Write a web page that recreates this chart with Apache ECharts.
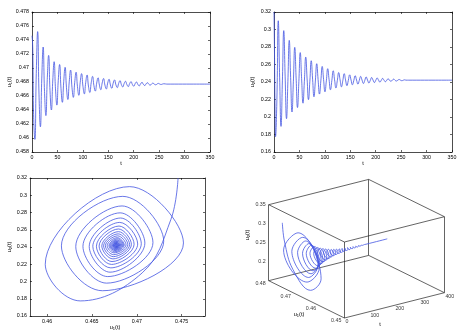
<!DOCTYPE html>
<html><head><meta charset="utf-8">
<script src="https://cdn.jsdelivr.net/npm/echarts@6/dist/echarts.min.js"></script>
<style>html,body{margin:0;padding:0;background:#fff}#c{width:474px;height:336px}</style>
</head><body><div id="c"></div>
<script>
const tValues = [
0, 1.0, 2.0,
3.0, 5.7, 8.4, 11.1,
13.8, 16.5, 19.2, 21.9,
24.6, 27.3, 30.0, 32.7,
35.4, 38.1, 40.8, 43.5,
46.2, 48.9, 51.6, 54.3,
57.0, 59.7, 62.4, 65.1,
67.8, 70.5, 73.2, 75.9,
78.6, 81.3, 84.0, 86.7,
89.4, 92.1, 94.8, 97.5,
100.2, 102.9, 105.6, 108.3,
111.0, 113.7, 116.4, 119.1,
121.8, 124.5, 127.2, 129.9,
132.6, 135.3, 138.0, 140.7,
143.4, 146.1, 148.8, 151.5,
154.2, 156.9, 159.6, 162.3,
165.0, 167.7, 170.4, 173.1,
175.8, 178.5, 181.2, 183.9,
186.6, 189.3, 192.0, 194.7,
197.4, 200.1, 202.8, 205.5,
208.2, 210.9, 213.6, 216.3,
219.0, 221.7, 224.4, 227.1,
229.8, 232.5, 235.2, 237.9,
240.6, 243.3, 246.0, 248.7,
251.4, 254.1, 256.8, 259.5,
265, 350];
const u1Values = [
0.4746, 0.4738, 0.4706,
0.4637, 0.4598, 0.4692, 0.4752,
0.46616, 0.4616, 0.46844, 0.4730,
0.46664, 0.4632, 0.46836, 0.4718,
0.46676, 0.4640, 0.46814, 0.4709,
0.46702, 0.4647, 0.46818, 0.4705,
0.4671, 0.4651, 0.4681, 0.4701,
0.46718, 0.4655, 0.46802, 0.4697,
0.46724, 0.4658, 0.46796, 0.4694,
0.46734, 0.4661, 0.46796, 0.4692,
0.46738, 0.4663, 0.46792, 0.4690,
0.46742, 0.4665, 0.46788, 0.4688,
0.46746, 0.4667, 0.46784, 0.4686,
0.46754, 0.4669, 0.46786, 0.4685,
0.46756, 0.4670, 0.46784, 0.4684,
0.46758, 0.4671, 0.46782, 0.4683,
0.4676, 0.4672, 0.4678, 0.4682,
0.46762, 0.4673, 0.46778, 0.4681,
0.46763, 0.46735, 0.46777, 0.46805,
0.46764, 0.4674, 0.46776, 0.4680,
0.46765, 0.46745, 0.46775, 0.46795,
0.46766, 0.4675, 0.46774, 0.4679,
0.46767, 0.46755, 0.46773, 0.46785,
0.46768, 0.4676, 0.46772, 0.4678,
0.46769, 0.46765, 0.46771, 0.46775,
0.4677, 0.4677];
const u2Values = [
0.3200, 0.2720, 0.2100,
0.1775, 0.2200, 0.3100, 0.2447,
0.1893, 0.2413, 0.2987, 0.2467,
0.1981, 0.2406, 0.2876, 0.2451,
0.2057, 0.2408, 0.2796, 0.2445,
0.2108, 0.2406, 0.2736, 0.2438,
0.2158, 0.2408, 0.2685, 0.2435,
0.2198, 0.2409, 0.2643, 0.2432,
0.2231, 0.2411, 0.2609, 0.2429,
0.2262, 0.2412, 0.2578, 0.2428,
0.2288, 0.2413, 0.2552, 0.2427,
0.2311, 0.2415, 0.2529, 0.2425,
0.2332, 0.2416, 0.2508, 0.2424,
0.2345, 0.2416, 0.2495, 0.2424,
0.2358, 0.2417, 0.2482, 0.2423,
0.2368, 0.2417, 0.2472, 0.2423,
0.2376, 0.2418, 0.2464, 0.2422,
0.2383, 0.2418, 0.2457, 0.2422,
0.2389, 0.2418, 0.2451, 0.2422,
0.2394, 0.2419, 0.2446, 0.2422,
0.2399, 0.2419, 0.2441, 0.2421,
0.2403, 0.2419, 0.2437, 0.2421,
0.2407, 0.2420, 0.2433, 0.2421,
0.2411, 0.2420, 0.2429, 0.2421,
0.2415, 0.2420, 0.2425, 0.2421,
0.2421, 0.2421];

// ---- tick labels ----
const tTicks = [0, 50, 100, 150, 200, 250, 300, 350];
const u1Ticks = [0.458, 0.46, 0.462, 0.464, 0.466, 0.468, 0.47, 0.472, 0.474, 0.476, 0.478];
const u2Ticks = [0.16, 0.18, 0.2, 0.22, 0.24, 0.26, 0.28, 0.3, 0.32];
const phaseU1Ticks = [0.46, 0.465, 0.47, 0.475];
const box3dT = [0, 100, 200, 300, 400];
const box3dU1 = [0.48, 0.47, 0.46, 0.45];
const box3dU2 = [0.2, 0.25, 0.3, 0.35];
const box3dRange = { t: [0, 400], u1: [0.48, 0.45], u2: [0.15, 0.35] };

// ---- styling ----
const FONT = 'Liberation Sans, Arial, Helvetica, sans-serif';
const FS = 5.3;
const LINE = '#4455e2';
const fmt = v => String(+(+v).toFixed(4));

function axis(gi, pos, min, max, ticks, showLabel) {
  return {
    type: 'value', gridIndex: gi, position: pos, min: min, max: max, scale: true,
    axisLine: { show: true, onZero: false, lineStyle: { color: '#000', width: 0.7 } },
    axisTick: { show: true, inside: true, length: 2, customValues: ticks, lineStyle: { color: '#000', width: 0.6 } },
    axisLabel: { show: showLabel, customValues: ticks, fontSize: FS, color: '#000', margin: 3, fontFamily: FONT, formatter: fmt },
    splitLine: { show: false }
  };
}

const grids = [
  { left: 32, top: 12, width: 178, height: 140 },
  { left: 274, top: 12, width: 178, height: 140 },
  { left: 30, top: 178, width: 175, height: 138 },
  { left: 237, top: 168, width: 237, height: 168 }
];

const xAxes = [
  axis(0, 'bottom', 0, 350, tTicks, true), axis(0, 'top', 0, 350, tTicks, false),
  axis(1, 'bottom', 0, 350, tTicks, true), axis(1, 'top', 0, 350, tTicks, false),
  axis(2, 'bottom', 0.4581, 0.4776, phaseU1Ticks, true), axis(2, 'top', 0.4581, 0.4776, phaseU1Ticks, false),
  { type: 'value', gridIndex: 3, min: 0, max: 237, show: false }
];
const yAxes = [
  axis(0, 'left', 0.458, 0.478, u1Ticks, true), axis(0, 'right', 0.458, 0.478, u1Ticks, false),
  axis(1, 'left', 0.16, 0.32, u2Ticks, true), axis(1, 'right', 0.16, 0.32, u2Ticks, false),
  axis(2, 'left', 0.16, 0.32, u2Ticks, true), axis(2, 'right', 0.16, 0.32, u2Ticks, false),
  { type: 'value', gridIndex: 3, min: 0, max: 168, inverse: true, show: false }
];

// ---- 3D box projection (panel-local pixel frame) ----
const P0 = [31.7, 112.7], VT = [100, -25.3], VU1 = [75.7, 37.3], VU2 = [0, -76];
function proj(t, a, b) {
  const ft = (t - box3dRange.t[0]) / (box3dRange.t[1] - box3dRange.t[0]);
  const fa = (a - box3dRange.u1[0]) / (box3dRange.u1[1] - box3dRange.u1[0]);
  const fb = (b - box3dRange.u2[0]) / (box3dRange.u2[1] - box3dRange.u2[0]);
  return [P0[0] + ft * VT[0] + fa * VU1[0] + fb * VU2[0],
          P0[1] + ft * VT[1] + fa * VU1[1] + fb * VU2[1]];
}
const R = box3dRange;
const corners = [];
[R.t[0], R.t[1]].forEach(t => [R.u1[0], R.u1[1]].forEach(a => [R.u2[0], R.u2[1]].forEach(b => corners.push([t, a, b]))));
const edges = [];
for (let i = 0; i < 8; i++) for (let j = i + 1; j < 8; j++) {
  const c = corners[i], d = corners[j];
  let diff = 0; for (let k = 0; k < 3; k++) if (c[k] !== d[k]) diff++;
  if (diff === 1) edges.push({ coords: [proj(...c), proj(...d)] });
}
const labels3d = [];
box3dU2.forEach(v => labels3d.push({ value: [...proj(R.t[0], R.u1[0], v), fmt(v)], label: { position: 'left', distance: 3, offset: [0, 0] } }));
box3dU1.forEach(v => labels3d.push({ value: [...proj(R.t[0], v, R.u2[0]), fmt(v)], label: { position: 'left', distance: 3, offset: [0, 3] } }));
box3dT.forEach(v => labels3d.push({ value: [...proj(v, R.u1[1], R.u2[0]), String(v)], label: { position: 'right', distance: 1, offset: [0, 3.5] } }));

const rich = {
  a: { fontSize: 5.6, fontFamily: FONT, color: '#000', lineHeight: 8 },
  s: { fontSize: 4, fontFamily: FONT, color: '#000', verticalAlign: 'bottom', lineHeight: 8 }
};
function title(x, y, text, rot) {
  return { type: 'text', x: x, y: y, rotation: rot ? Math.PI / 2 : 0,
    style: { text: text, rich: rich, font: '5.6px ' + FONT, fill: '#000', align: 'center', verticalAlign: 'middle' } };
}

const chart = echarts.init(document.getElementById('c'), null, { renderer: 'canvas' });
chart.setOption({
  animation: false,
  backgroundColor: '#fff',
  grid: grids,
  xAxis: xAxes,
  yAxis: yAxes,
  graphic: [
    title(9, 82, '{a|u}{s|1}{a|(t)}', true),
    title(121, 163, '{a|t}', false),
    title(252, 82, '{a|u}{s|2}{a|(t)}', true),
    title(363, 163, '{a|t}', false),
    title(9, 247, '{a|u}{s|2}{a|(t)}', true),
    title(115, 327, '{a|u}{s|1}{a|(t)}', false),
    title(247, 235, '{a|u}{s|2}{a|(t)}', true),
    title(299, 314, '{a|u}{s|1}{a|(t)}', false),
    title(380, 324, '{a|t}', false)
  ],
  series: [
    { type: 'line', xAxisIndex: 0, yAxisIndex: 0, showSymbol: false, smooth: 0.5,
      lineStyle: { color: LINE, width: 0.8 }, data: tValues.map((t, i) => [t, u1Values[i]]) },
    { type: 'line', xAxisIndex: 2, yAxisIndex: 2, showSymbol: false, smooth: 0.5,
      lineStyle: { color: LINE, width: 0.8 }, data: tValues.map((t, i) => [t, u2Values[i]]) },
    { type: 'line', xAxisIndex: 4, yAxisIndex: 4, showSymbol: false, smooth: 0.4,
      lineStyle: { color: LINE, width: 0.8 }, data: u1Values.map((a, i) => [a, u2Values[i]]) },
    { type: 'lines', coordinateSystem: 'cartesian2d', xAxisIndex: 6, yAxisIndex: 6, silent: true,
      lineStyle: { color: '#222', width: 0.7, opacity: 1 }, data: edges },
    { type: 'line', xAxisIndex: 6, yAxisIndex: 6, showSymbol: false, smooth: 0.4,
      lineStyle: { color: LINE, width: 0.8 }, data: tValues.map((t, i) => proj(t, u1Values[i], u2Values[i])) },
    { type: 'scatter', xAxisIndex: 6, yAxisIndex: 6, symbolSize: 0, silent: true,
      label: { show: true, fontSize: FS, color: '#000', fontFamily: FONT, formatter: p => p.value[2] },
      data: labels3d }
  ]
});
</script></body></html>
